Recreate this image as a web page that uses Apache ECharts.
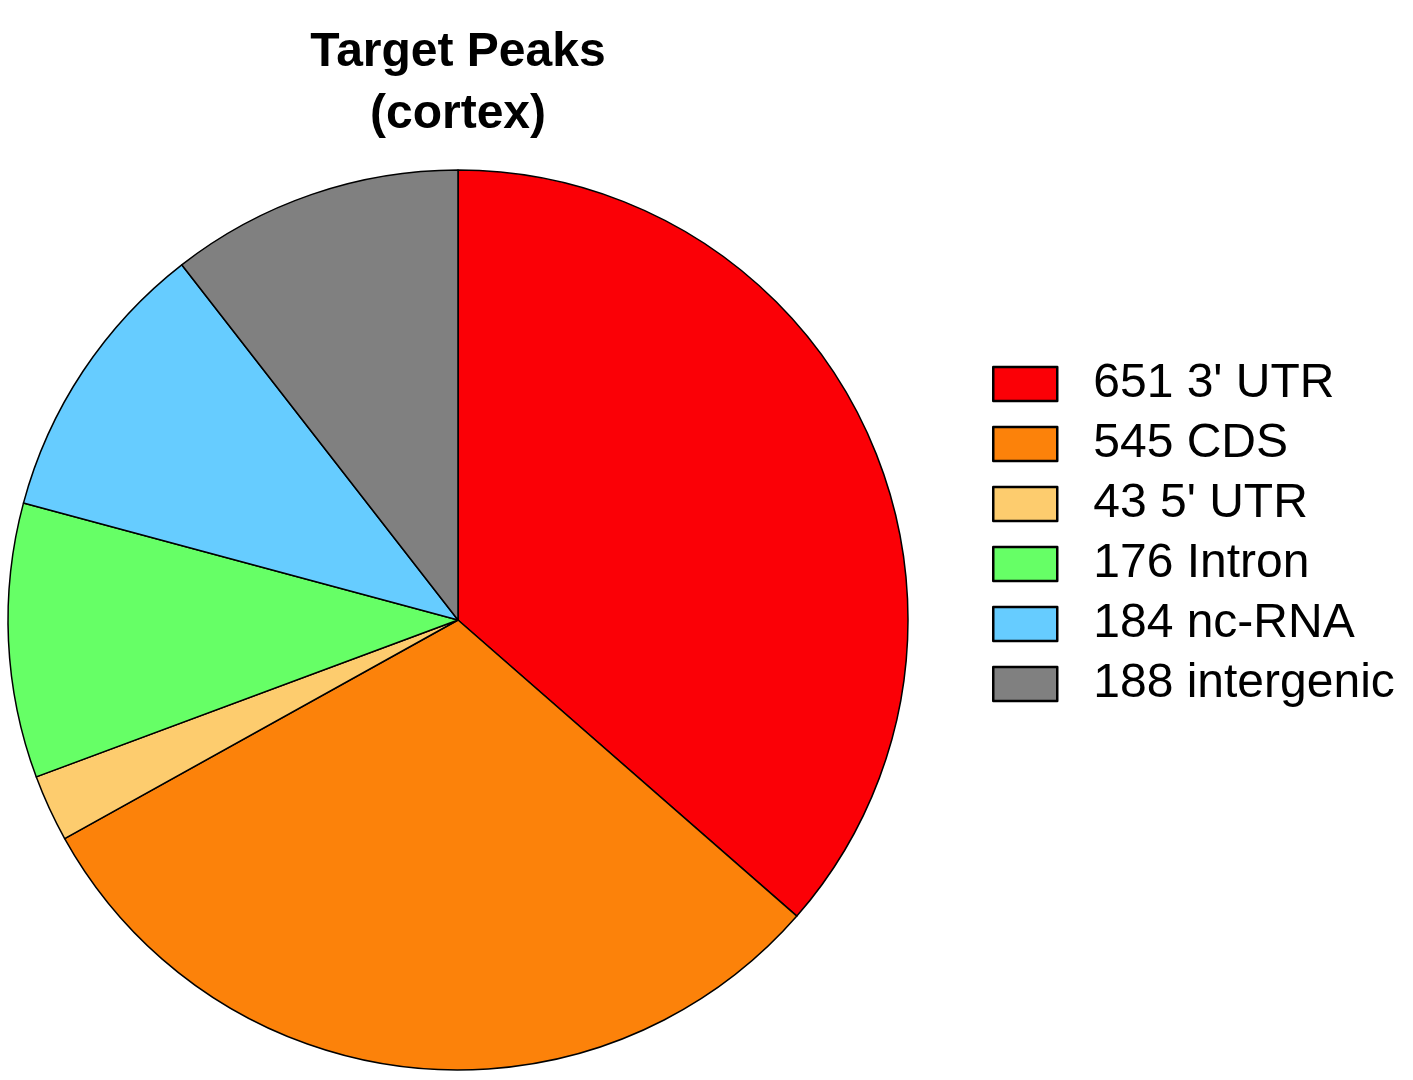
<!DOCTYPE html>
<html><head><meta charset="utf-8">
<script src="https://cdn.jsdelivr.net/npm/echarts@6/dist/echarts.min.js"></script>
<style>html,body{margin:0;padding:0;background:#fff}#c{width:1413px;height:1080px}</style>
</head><body><div id="c"></div>
<script>
const categories = ["3' UTR", "CDS", "5' UTR", "Intron", "nc-RNA", "intergenic"];
const values = [651, 545, 43, 176, 184, 188];
const colors = ['#FB0006', '#FC820A', '#FDCC6E', '#66FF66', '#66CCFF', '#808080'];
const titleText = 'Target Peaks\n(cortex)';

const FONT = 'Arial, "Liberation Sans", sans-serif';
const chart = echarts.init(document.getElementById('c'));
chart.setOption({
  backgroundColor: '#fff',
  animation: false,
  title: {
    text: titleText,
    left: 458, top: 22, textAlign: 'center', padding: 0,
    textStyle: { fontFamily: FONT, fontSize: 48, fontWeight: 'bold', color: '#000', lineHeight: 62 }
  },
  legend: {
    orient: 'vertical', left: 992, top: 360, padding: 0,
    itemWidth: 64, itemHeight: 34, itemGap: 12,
    icon: 'rect',
    itemStyle: { borderColor: '#000', borderWidth: 2.5 },
    textStyle: { fontFamily: FONT, fontSize: 48, color: '#000', padding: [3, 0, 0, 31] },
    formatter: function (name) {
      const i = categories.indexOf(name);
      return values[i] + ' ' + name;
    },
    data: categories
  },
  series: [{
    type: 'pie',
    center: [458, 620], radius: [0, 450],
    startAngle: 90, clockwise: true,
    label: { show: false }, labelLine: { show: false },
    emphasis: { disabled: true },
    itemStyle: { borderColor: '#000', borderWidth: 1.5 },
    data: categories.map((c, i) => ({ name: c, value: values[i], itemStyle: { color: colors[i] } }))
  }]
});
</script></body></html>
